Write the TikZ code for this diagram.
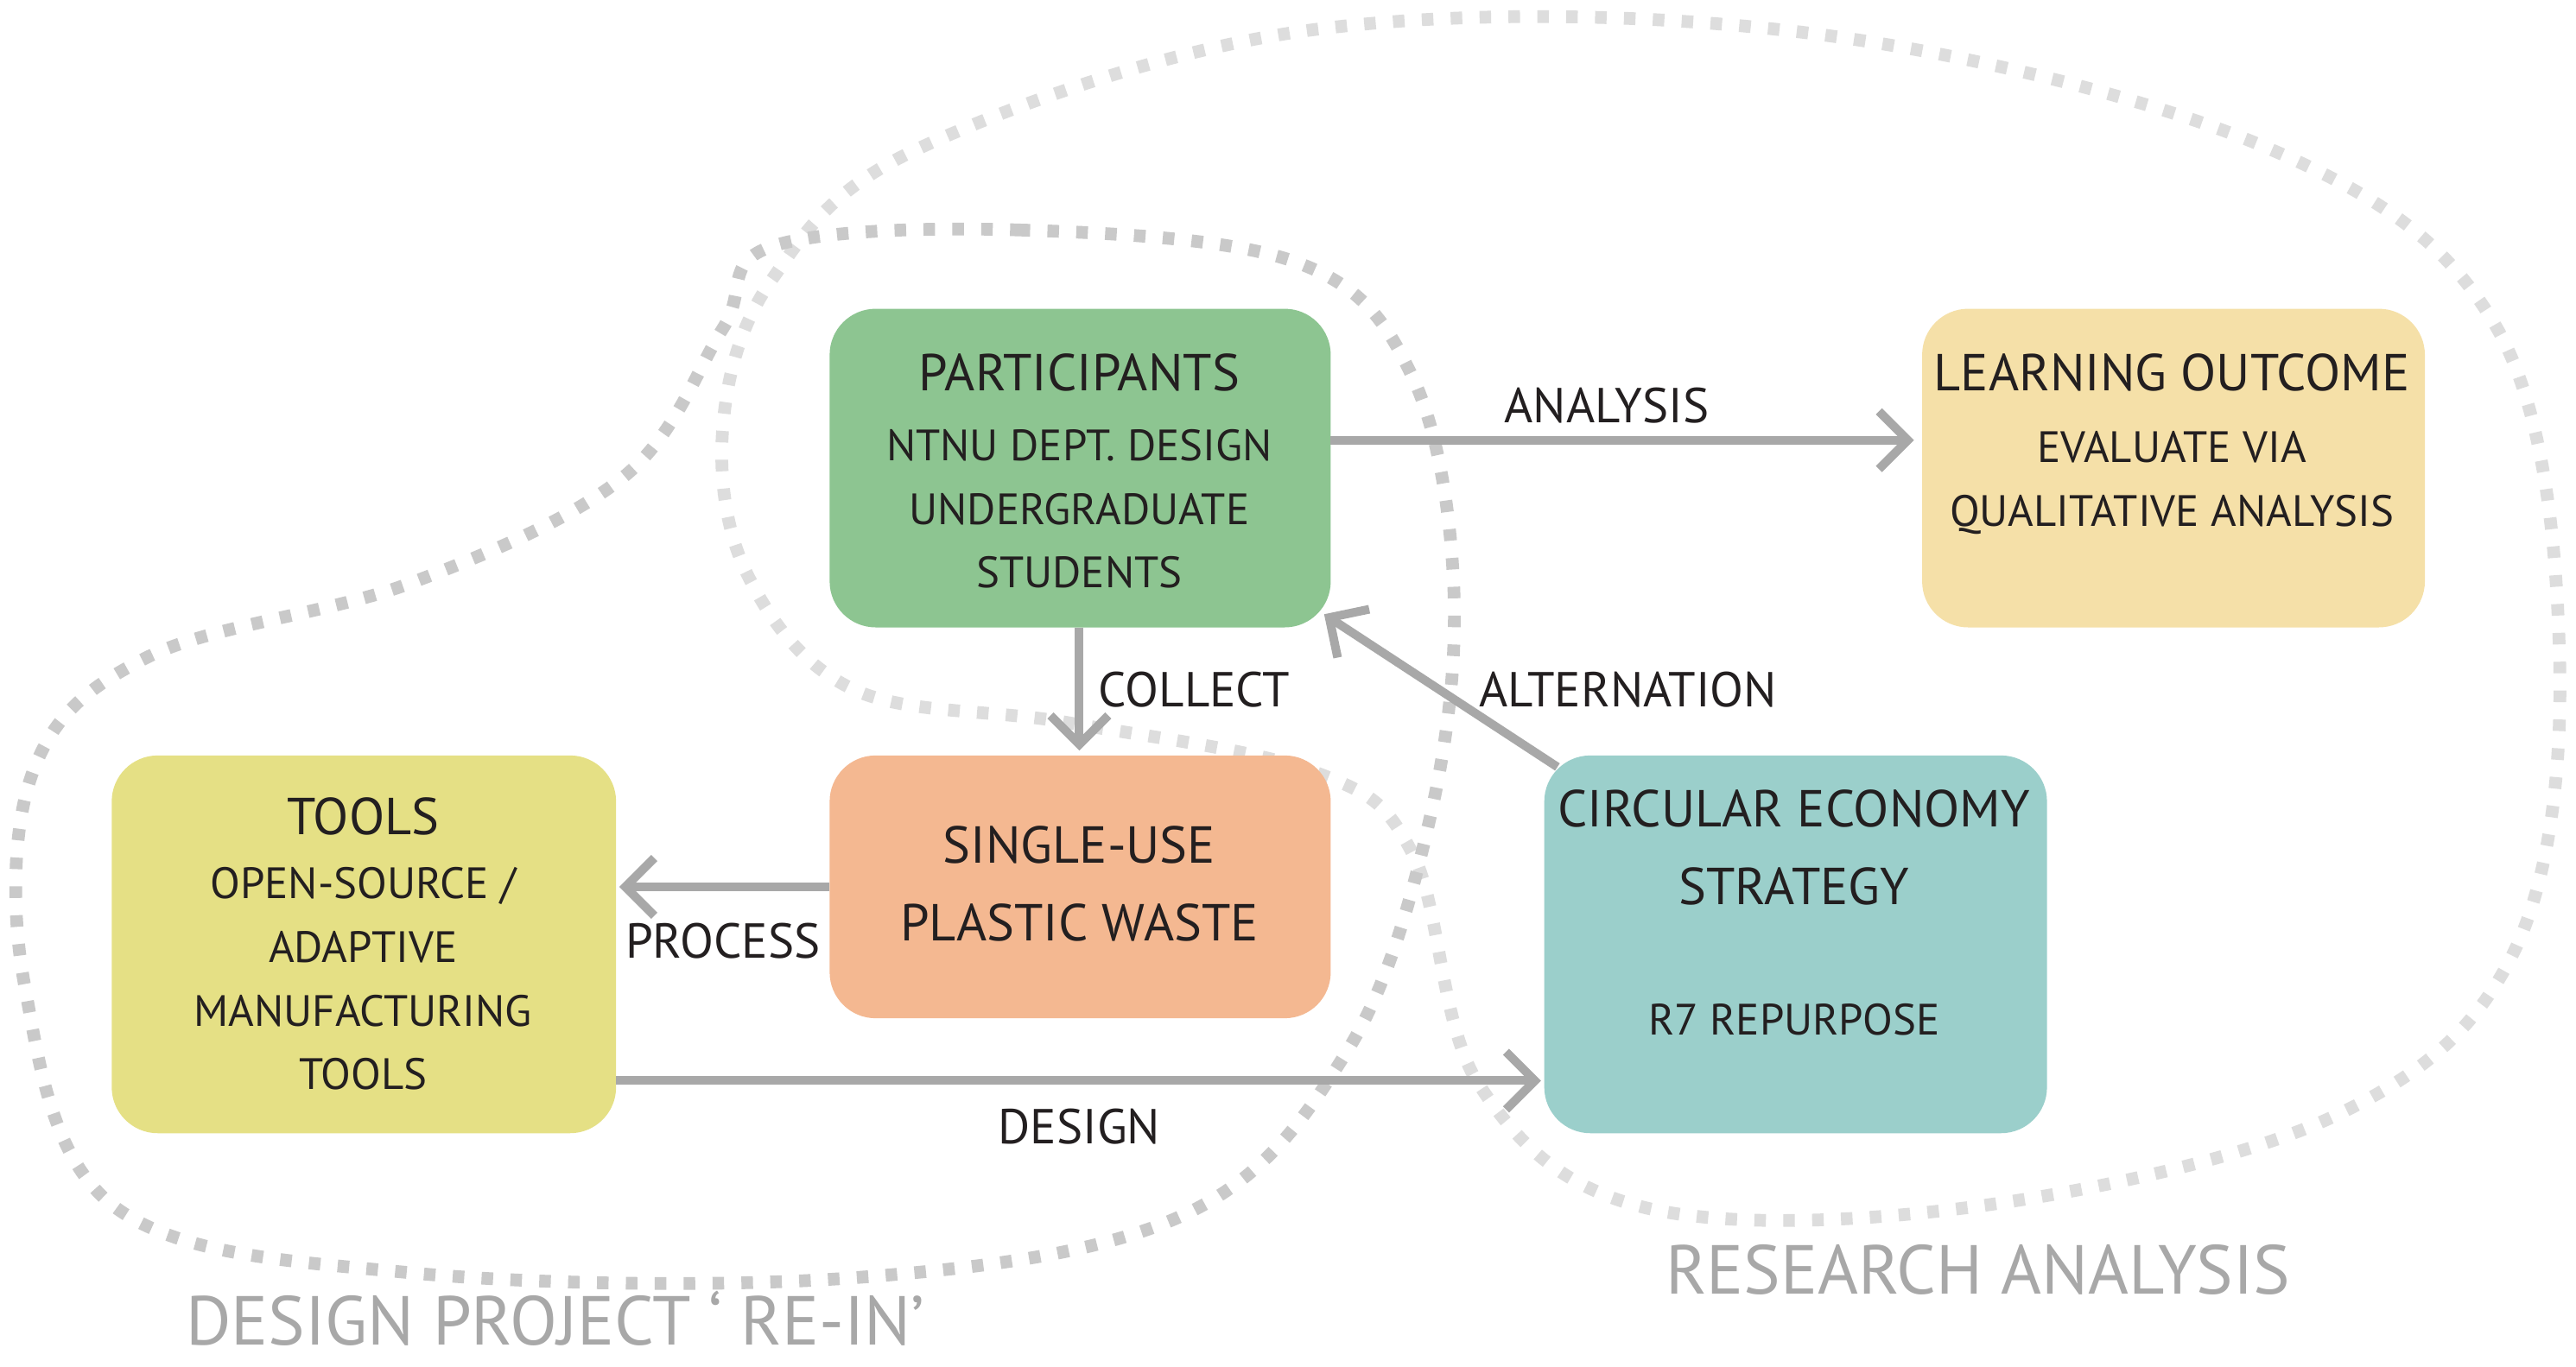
\documentclass[tikz,border=0pt]{standalone}
\usepackage{fontspec}
\setmainfont{PT Sans}
\usetikzlibrary{arrows.meta}
\definecolor{cgreen}{HTML}{8DC591}
\definecolor{cyel}{HTML}{F5E0A8}
\definecolor{clime}{HTML}{E5E085}
\definecolor{corange}{HTML}{F4B891}
\definecolor{cteal}{HTML}{9BCFCB}
\definecolor{carrow}{HTML}{A8A8A8}
\definecolor{cblobA}{HTML}{C9C9C9}
\definecolor{cblobB}{HTML}{DDDDDD}
\definecolor{clabel}{HTML}{A8A8A8}
\definecolor{ctext}{HTML}{231F20}
\begin{document}
\begin{tikzpicture}[x=0.01cm,y=-0.01cm,
  box/.style={rounded corners=0.28cm,inner sep=0pt,text=ctext,align=center},
  conn/.style={carrow,line width=1.5pt,-{Straight Barb[length=5pt,width=10pt,line width=1.5pt]}},
  lbl/.style={text=ctext,font=\fontsize{8.5}{10}\selectfont},
  head/.style={font=\fontsize{9}{11}\selectfont},
  body/.style={font=\fontsize{7.6}{11}\selectfont},
  blob/.style={line width=2.2pt,dash pattern=on 2pt off 3pt}]
\fill[white] (0,0) rectangle (1568,832);
% blobs
\draw[blob,cblobB] plot[smooth cycle,tension=0.6] coordinates{
 (440,260) (470,170) (560,90) (800,18) (1100,20) (1380,90) (1520,200) (1558,400) (1530,580) (1420,680) (1200,735) (1000,735) (900,660) (860,520) (800,470) (650,440) (520,420) (455,350)};
\draw[blob,cblobA] plot[smooth cycle,tension=0.6] coordinates{
 (470,150) (620,140) (790,160) (860,230) (885,360) (870,500) (820,640) (720,740) (520,778) (250,775) (70,735) (15,600) (20,470) (90,400) (250,355) (380,290) (440,200)};
% boxes
\fill[cgreen,rounded corners=0.28cm] (505,188) rectangle (810,382);
\fill[cyel,rounded corners=0.28cm] (1170,188) rectangle (1476,382);
\fill[clime,rounded corners=0.28cm] (68,460) rectangle (375,690);
\fill[corange,rounded corners=0.28cm] (505,460) rectangle (810,620);
\fill[cteal,rounded corners=0.28cm] (940,460) rectangle (1246,690);
\node[box,minimum width=3.05cm,minimum height=1.94cm] (part) at (657.5,285) {};
\node[box,minimum width=3.06cm,minimum height=1.94cm] (learn) at (1323,285) {};
\node[box,minimum width=3.07cm,minimum height=2.3cm] (tools) at (221.5,575) {};
\node[box,minimum width=3.05cm,minimum height=1.6cm] (waste) at (657.5,540) {};
\node[box,minimum width=3.06cm,minimum height=2.3cm] (circ) at (1093,575) {};
% texts
\node[box,head] (t1) at (657,227) {PARTICIPANTS};
\node[box,body] (t1b) at (657,310) {NTNU DEPT. DESIGN\\UNDERGRADUATE\\STUDENTS};
\node[box,head] (t2) at (1322,227) {LEARNING OUTCOME};
\node[box,body] (t2b) at (1322,294) {EVALUATE VIA\\QUALITATIVE ANALYSIS};
\node[box,head] (t3) at (221,497) {TOOLS};
\node[box,body] (t3b) at (221,596) {OPEN-SOURCE /\\ADAPTIVE\\MANUFACTURING\\TOOLS};
\node[box,head,font=\fontsize{9}{13.5}\selectfont] (t4) at (657,538) {SINGLE-USE\\PLASTIC WASTE};
\node[box,head,font=\fontsize{9}{13.5}\selectfont] (t5) at (1092,516) {CIRCULAR ECONOMY\\STRATEGY};
\node[box,body] (t5b) at (1092,621) {R7 REPURPOSE};
% connectors
\coordinate (a1) at (810,268); \coordinate (a2) at (1165,268);
\draw[conn] (a1) -- (a2);
\coordinate (c1) at (657,382); \coordinate (c2) at (657,457);
\draw[conn] (c1) -- (c2);
\coordinate (l1) at (948,467); \coordinate (l2) at (806,374);
\draw[conn] (l1) -- (l2);
\coordinate (p1) at (505,540); \coordinate (p2) at (377,540);
\draw[conn] (p1) -- (p2);
\coordinate (d1) at (375,658); \coordinate (d2) at (938,658);
\draw[conn] (d1) -- (d2);
\node[lbl] (la) at (978,247) {ANALYSIS};
\node[lbl] (lc) at (727,420) {COLLECT};
\node[lbl] (ll) at (991,420) {ALTERNATION};
\node[lbl] (lp) at (440,573) {PROCESS};
\node[lbl] (ld) at (657,686) {DESIGN};
\node[text=clabel,font=\fontsize{12}{14}\selectfont] (g1) at (338,803) {DESIGN PROJECT ‘ RE-IN’};
\node[text=clabel,font=\fontsize{12}{14}\selectfont] (g2) at (1204,773) {RESEARCH ANALYSIS};
\end{tikzpicture}
\end{document}
